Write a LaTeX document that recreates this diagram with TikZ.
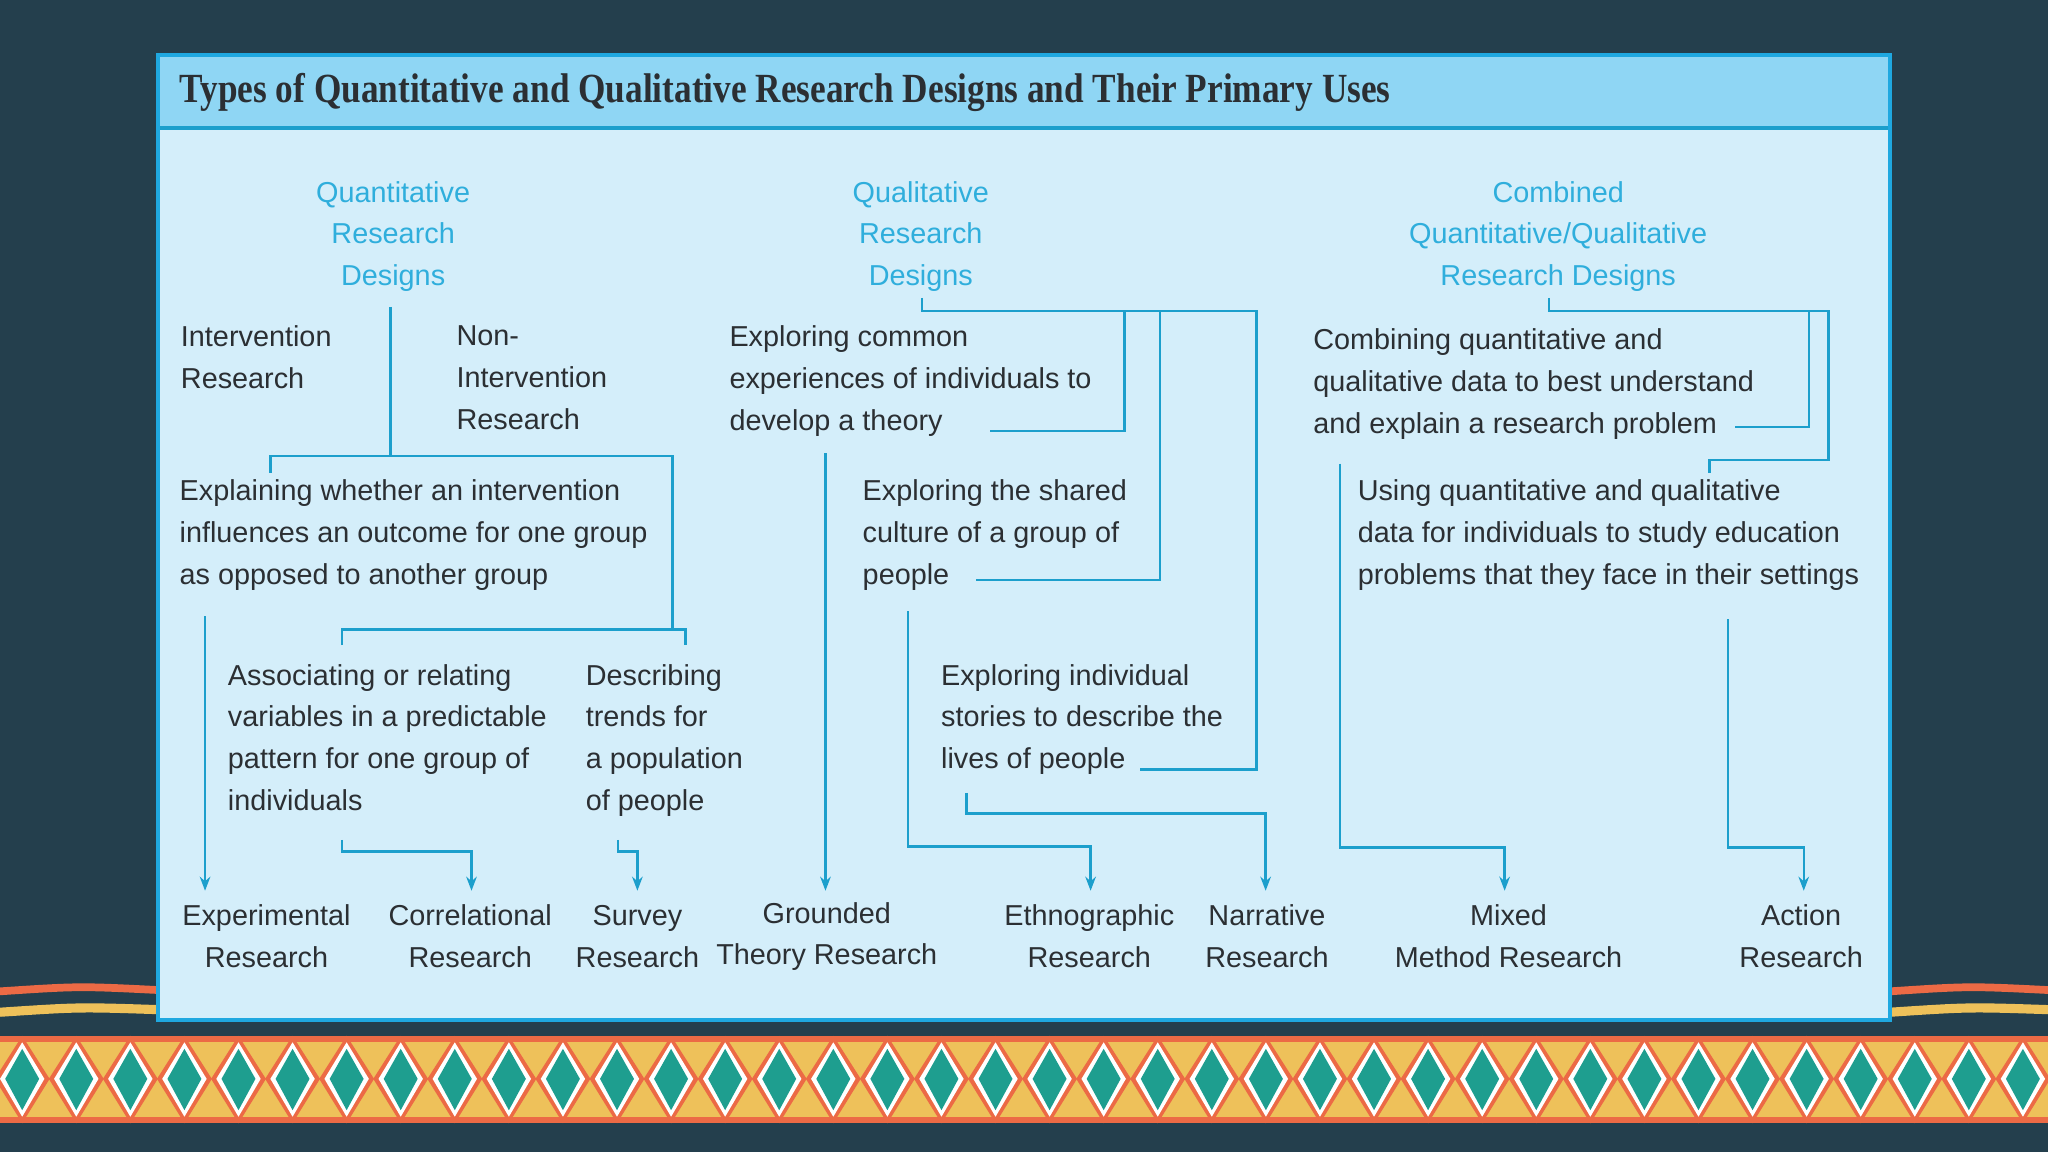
\documentclass[tikz,border=0pt]{standalone}
\usepackage{fontspec}
\setmainfont{Liberation Sans}
\newfontfamily\titlefont{Liberation Serif}[FakeStretch=0.85]
\usetikzlibrary{arrows.meta}
\definecolor{bgc}{HTML}{243F4D}
\definecolor{panel}{HTML}{D4EEFA}
\definecolor{head}{HTML}{8FD6F4}
\definecolor{edge}{HTML}{1FA8E0}
\definecolor{linec}{HTML}{1C9FCC}
\definecolor{hblue}{HTML}{2FAEDC}
\definecolor{txt}{HTML}{2B2F33}
\definecolor{orng}{HTML}{EC6A45}
\definecolor{yel}{HTML}{EEC15A}
\definecolor{teal}{HTML}{1E9E8F}
\tikzset{
  body/.style={font=\fontsize{8.2}{11.9}\selectfont, text=txt, align=left, inner sep=0pt, anchor=north west},
  lab/.style={font=\fontsize{8.2}{11.9}\selectfont, text=txt, align=center, inner sep=0pt},
  hdr/.style={font=\fontsize{8.2}{11.9}\selectfont, text=hblue, align=center, inner sep=0pt},
  conn/.style={draw=linec, line width=0.7pt},
  arr/.style={conn, -{Stealth[length=4pt,width=3pt]}},
}
\begin{document}
\begin{tikzpicture}[x=0.01306cm,y=-0.01306cm]
\useasboundingbox (0,0) rectangle (1568,882);
\fill[bgc] (0,0) rectangle (1568,882);
% side stripes
\foreach \xa/\xb in {0/121,1447/1568}{
  \draw[orng, line width=2.2pt] (\xa,759) .. controls ({(\xa+\xb)/2},755) .. (\xb,758);
  \draw[yel, line width=2.6pt] (\xa,775) .. controls ({(\xa+\xb)/2},771) .. (\xb,773);
}
% decorative band
\fill[orng] (0,793) rectangle (1568,860);
\fill[yel] (0,798) rectangle (1568,855);
\foreach \i in {0,...,38}{
  \pgfmathsetmacro{\cx}{17+41.4*\i}
  \fill[orng] (\cx,793) -- (\cx+21,826) -- (\cx,860) -- (\cx-21,826) -- cycle;
  \fill[white] (\cx,798) -- (\cx+17,826) -- (\cx,855) -- (\cx-17,826) -- cycle;
  \fill[teal] (\cx,803) -- (\cx+13,826) -- (\cx,850) -- (\cx-13,826) -- cycle;
}
% panel
\fill[panel] (121,42) rectangle (1447,781);
\fill[head] (121,42) rectangle (1447,98);
\draw[linec, line width=1.2pt] (121,98) -- (1447,98);
\draw[edge, line width=1.3pt] (121,42) rectangle (1447,781);
\node[anchor=west, inner sep=0pt, text=txt, font=\titlefont\bfseries\fontsize{11.8}{14}\selectfont] (title) at (137,71) {Types of Quantitative and Qualitative Research Designs and Their Primary Uses};
% headers
\node[hdr] (hq) at (301,181) {Quantitative\\Research\\Designs};
\node[hdr] (hl) at (705,181) {Qualitative\\Research\\Designs};
\node[hdr] (hc) at (1193,181) {Combined\\Quantitative/Qualitative\\Research Designs};
% body texts
\node[body] (iv) at (138,249) {Intervention\\Research};
\node[body] (niv) at (349,249) {Non-\\Intervention\\Research};
\node[body] (ec) at (558,249) {Exploring common\\experiences of individuals to\\develop a theory};
\node[body] (cb) at (1005,251) {Combining quantitative and\\qualitative data to best understand\\and explain a research problem};
\node[body] (ex) at (137,367) {Explaining whether an intervention\\influences an outcome for one group\\as opposed to another group};
\node[body] (es) at (660,367) {Exploring the shared\\culture of a group of\\people};
\node[body] (uq) at (1039,367) {Using quantitative and qualitative\\data for individuals to study education\\problems that they face in their settings};
\node[body] (as) at (174,508) {Associating or relating\\variables in a predictable\\pattern for one group of\\individuals};
\node[body] (ds) at (448,508) {Describing\\trends for\\a population\\of people};
\node[body] (ei) at (720,508) {Exploring individual\\stories to describe the\\lives of people};
% bottom labels
\node[lab] (r1) at (204,717) {Experimental\\Research};
\node[lab] (r2) at (360,717) {Correlational\\Research};
\node[lab] (r3) at (488,717) {Survey\\Research};
\node[lab] (r4) at (633,717) {Grounded\\Theory Research};
\node[lab] (r5) at (834,717) {Ethnographic\\Research};
\node[lab] (r6) at (970,717) {Narrative\\Research};
\node[lab] (r7) at (1155,717) {Mixed\\Method Research};
\node[lab] (r8) at (1379,717) {Action\\Research};
% quantitative connectors
\draw[conn] (299,235) -- (299,349);
\draw[conn] (207,362) -- (207,349) -- (515,349) -- (515,482);
\draw[conn] (262,494) -- (262,482) -- (525,482) -- (525,494);
\draw[arr] (157,472) -- (157,682);
\draw[arr] (262,643) -- (262,652) -- (361,652) -- (361,682);
\draw[arr] (473,643) -- (473,652) -- (488,652) -- (488,682);
% qualitative connectors
\draw[conn] (706,228) -- (706,238) -- (962,238) -- (962,589) -- (873,589);
\draw[conn] (861,238) -- (861,330) -- (758,330);
\draw[conn] (888,238) -- (888,444) -- (747,444);
\draw[arr] (632,347) -- (632,682);
\draw[arr] (695,468) -- (695,648) -- (835,648) -- (835,682);
\draw[arr] (740,607) -- (740,623) -- (969,623) -- (969,682);
% combined connectors
\draw[conn] (1186,228) -- (1186,238) -- (1400,238) -- (1400,352) -- (1309,352) -- (1309,362);
\draw[conn] (1385,238) -- (1385,327) -- (1328,327);
\draw[arr] (1026,355) -- (1026,649) -- (1152,649) -- (1152,682);
\draw[arr] (1323,474) -- (1323,649) -- (1381,649) -- (1381,682);
\end{tikzpicture}
\end{document}
